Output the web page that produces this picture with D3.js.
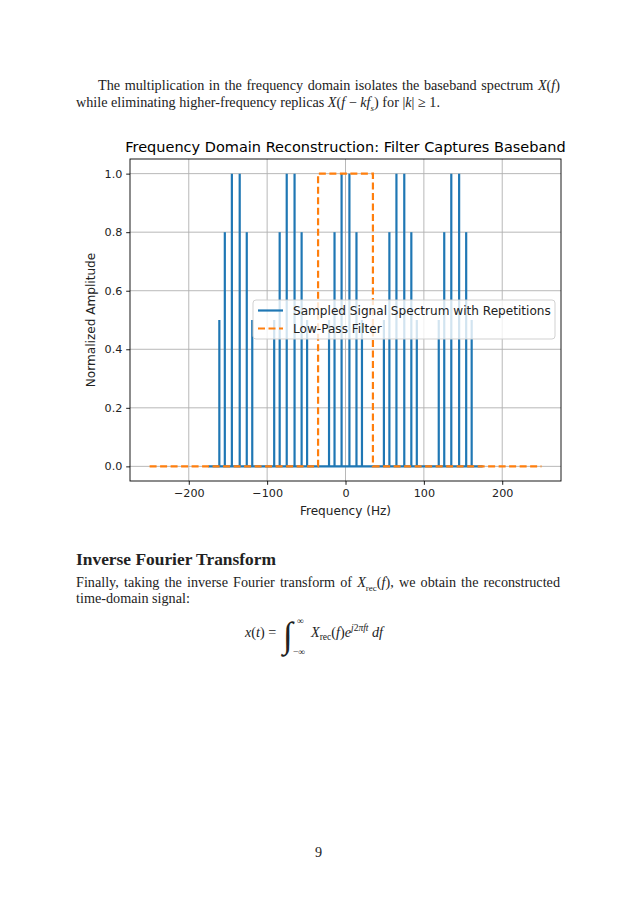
<!DOCTYPE html>
<html>
<head>
<meta charset="utf-8">
<script src="https://cdn.jsdelivr.net/npm/d3@7"></script>
<style>
  html, body { margin: 0; padding: 0; background: #fff; }
  body { width: 638px; height: 902px; position: relative; overflow: hidden; }
  .tx { position: absolute; font-family: "Liberation Serif", "DejaVu Serif", serif; color: #222; font-size: 14.2px; line-height: 17px; white-space: nowrap; }
  .just { text-align: justify; text-align-last: justify; white-space: normal; }
  .m { font-style: italic; }
  svg { position: absolute; left: 0; top: 0; }
</style>
</head>
<body>
<div class="tx just" style="left:98px; top:77px; width:462px;">The multiplication in the frequency domain isolates the baseband spectrum <span class="m">X</span>(<span class="m">f</span>)</div>
<div class="tx" style="left:76px; top:94px;">while eliminating higher-frequency replicas <span class="m">X</span>(<span class="m">f</span> − <span class="m">kf<sub style="font-size:9px">s</sub></span>) for |<span class="m">k</span>| ≥ 1.</div>
<div class="tx" style="left:76px; top:549px; font-weight:bold; font-size:17.4px; line-height:20px;">Inverse Fourier Transform</div>
<div class="tx just" style="left:76px; top:574px; width:484px;">Finally, taking the inverse Fourier transform of <span class="m">X</span><sub style="font-size:9px">rec</sub>(<span class="m">f</span>), we obtain the reconstructed</div>
<div class="tx" style="left:76px; top:590px;">time-domain signal:</div>
<div class="tx" style="left:315px; top:844px;">9</div>
<svg id="chart" width="638" height="902"></svg>
<script>
// ---------------- data ----------------
const stemFreqs = [
  -161, -154, -145, -135, -126, -119,
  -91, -84, -75, -65, -56, -49,
  -21, -14, -5, 5, 14, 21,
  49, 56, 65, 75, 84, 91,
  119, 126, 135, 145, 154, 161
];
const stemAmps = [
  0.5, 0.8, 1.0, 1.0, 0.8, 0.5,
  0.5, 0.8, 1.0, 1.0, 0.8, 0.5,
  0.5, 0.8, 1.0, 1.0, 0.8, 0.5,
  0.5, 0.8, 1.0, 1.0, 0.8, 0.5,
  0.5, 0.8, 1.0, 1.0, 0.8, 0.5
];
const baselineFreqs = [-175, 175];
const filterFreqs = [-250, -35, -35, 35, 35, 250];
const filterVals = [0, 0, 1, 1, 0, 0];
const xTicks = [-200, -100, 0, 100, 200];
const yTicks = [0.0, 0.2, 0.4, 0.6, 0.8, 1.0];
const seriesNames = ["Sampled Signal Spectrum with Repetitions", "Low-Pass Filter"];
const chartTitle = "Frequency Domain Reconstruction: Filter Captures Baseband";
const xLabel = "Frequency (Hz)";
const yLabel = "Normalized Amplitude";

// ---------------- layout ----------------
const L = 130, R = 561, T = 159, B = 481;
const blue = "#1f77b4", orange = "#ff7f0e";
const font = "DejaVu Sans, sans-serif";

const svg = d3.select("#chart");
const x = d3.scaleLinear().domain([-275, 275]).range([L, R]);
const y = d3.scaleLinear().domain([-0.05, 1.05]).range([B, T]);

const g = svg.append("g");

// grid
g.append("g").selectAll("line").data(xTicks).join("line")
  .attr("x1", d => x(d)).attr("x2", d => x(d)).attr("y1", T).attr("y2", B)
  .attr("stroke", "#b0b0b0").attr("stroke-width", 0.9);
g.append("g").selectAll("line").data(yTicks).join("line")
  .attr("y1", d => y(d)).attr("y2", d => y(d)).attr("x1", L).attr("x2", R)
  .attr("stroke", "#b0b0b0").attr("stroke-width", 0.9);

// clip
svg.append("clipPath").attr("id", "clip").append("rect")
  .attr("x", L).attr("y", T).attr("width", R - L).attr("height", B - T);
const plot = g.append("g").attr("clip-path", "url(#clip)");

// stems
const stems = stemFreqs.map((f, i) => ({ f, a: stemAmps[i] }));
plot.append("g").selectAll("line").data(stems).join("line")
  .attr("x1", d => x(d.f)).attr("x2", d => x(d.f))
  .attr("y1", y(0)).attr("y2", d => y(d.a))
  .attr("stroke", blue).attr("stroke-width", 2.2);
// stem baseline
plot.append("line")
  .attr("x1", x(baselineFreqs[0])).attr("x2", x(baselineFreqs[1]))
  .attr("y1", y(0)).attr("y2", y(0))
  .attr("stroke", blue).attr("stroke-width", 2.2);

// filter
const filt = filterFreqs.map((f, i) => [f, filterVals[i]]);
plot.append("path")
  .attr("d", d3.line().x(d => x(d[0])).y(d => y(d[1]))(filt))
  .attr("fill", "none").attr("stroke", orange).attr("stroke-width", 2.2)
  .attr("stroke-dasharray", "7,3.5");

// axes
const xAxis = d3.axisBottom(x).tickValues(xTicks).tickSize(3.8).tickPadding(3.8)
  .tickFormat(d => d < 0 ? "\u2212" + Math.abs(d) : String(d));
const yAxis = d3.axisLeft(y).tickValues(yTicks).tickSize(3.8).tickPadding(3.8)
  .tickFormat(d3.format(".1f"));
const gx = g.append("g").attr("transform", `translate(0,${B})`).call(xAxis);
const gy = g.append("g").attr("transform", `translate(${L},0)`).call(yAxis);
[gx, gy].forEach(a => {
  a.select(".domain").remove();
  a.selectAll(".tick line").attr("stroke", "#000").attr("stroke-width", 0.9);
  a.selectAll(".tick text").attr("font-family", font).attr("font-size", 11.2).attr("fill", "#222");
});

// frame
g.append("rect").attr("x", L).attr("y", T).attr("width", R - L).attr("height", B - T)
  .attr("fill", "none").attr("stroke", "#000").attr("stroke-width", 0.9);

// title & labels
svg.append("text").attr("x", (L + R) / 2).attr("y", 151.5)
  .attr("text-anchor", "middle").attr("font-family", font).attr("font-size", 14.5)
  .attr("fill", "#000").text(chartTitle);
svg.append("text").attr("x", (L + R) / 2).attr("y", 515)
  .attr("text-anchor", "middle").attr("font-family", font).attr("font-size", 12.1)
  .attr("fill", "#222").text(xLabel);
svg.append("text").attr("transform", `translate(95,${(T + B) / 2}) rotate(-90)`)
  .attr("text-anchor", "middle").attr("font-family", font).attr("font-size", 12.1)
  .attr("fill", "#222").text(yLabel);

// legend
const lg = svg.append("g").attr("transform", "translate(253,300)");
lg.append("rect").attr("width", 302).attr("height", 39).attr("rx", 3)
  .attr("fill", "#fff").attr("fill-opacity", 0.8).attr("stroke", "#cccccc").attr("stroke-width", 0.9);
const items = [
  { name: seriesNames[0], color: blue, dash: null, dy: 10.5 },
  { name: seriesNames[1], color: orange, dash: "7,3.5", dy: 28.5 }
];
items.forEach(it => {
  lg.append("line").attr("x1", 5).attr("x2", 30).attr("y1", it.dy).attr("y2", it.dy)
    .attr("stroke", it.color).attr("stroke-width", 2.2)
    .attr("stroke-dasharray", it.dash);
  lg.append("text").attr("x", 40).attr("y", it.dy).attr("dy", "0.35em")
    .attr("font-family", font).attr("font-size", 12.1).attr("fill", "#222").text(it.name);
});

// equation
const eq = svg.append("g").attr("font-family", "Liberation Serif, DejaVu Serif, serif").attr("fill", "#222");
eq.append("text").attr("x", 245).attr("y", 637).attr("font-size", 14.2)
  .html('<tspan font-style="italic">x</tspan>(<tspan font-style="italic">t</tspan>) =');
eq.append("text").attr("x", 283).attr("y", 647).attr("font-size", 36)
  .attr("font-style", "italic").text("\u222B");
eq.append("text").attr("x", 297).attr("y", 624).attr("font-size", 9.5).text("\u221E");
eq.append("text").attr("x", 293).attr("y", 655).attr("font-size", 9.5).text("\u2212\u221E");
eq.append("text").attr("x", 311).attr("y", 637).attr("font-size", 14.2)
  .html('<tspan font-style="italic">X</tspan><tspan font-size="9.5" dy="3">rec</tspan><tspan dy="-3">(</tspan><tspan font-style="italic">f</tspan>)<tspan font-style="italic">e</tspan><tspan font-size="9.5" dy="-6" font-style="italic">j</tspan><tspan font-size="9.5">2</tspan><tspan font-size="9.5" font-style="italic">πft</tspan><tspan dy="6" font-style="italic"> df</tspan>');
</script>
</body>
</html>
